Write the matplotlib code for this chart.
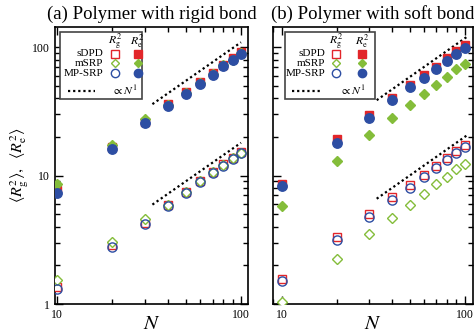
import numpy as np
import matplotlib
matplotlib.use("Agg")
import matplotlib.pyplot as plt
from matplotlib.patches import Rectangle

plt.rcParams['font.family'] = ['Liberation Serif', 'DejaVu Serif']
plt.rcParams['mathtext.fontset'] = 'stix'

# chain length
N = [10, 20, 30, 40, 50, 60, 70, 80, 90, 100]

# (a) rigid bond
rg_sdpd_a = [1.36, 2.88, 4.30, 5.95, 7.45, 9.15, 10.7, 12.2, 13.8, 15.3]
rg_msrp_a = [1.53, 3.05, 4.62, 5.95, 7.40, 9.10, 10.6, 12.1, 13.6, 15.1]
rg_mpsrp_a = [1.32, 2.77, 4.19, 5.80, 7.27, 8.95, 10.4, 11.9, 13.4, 14.9]
re_sdpd_a = [7.7, 16.6, 26.3, 35.8, 44.5, 53.7, 63.0, 73.0, 82.0, 92.0]
re_msrp_a = [8.55, 17.3, 27.4, 35.5, 44.0, 53.0, 62.0, 72.0, 80.0, 90.0]
re_mpsrp_a = [7.35, 16.0, 25.6, 34.7, 43.0, 52.0, 61.0, 71.0, 79.0, 89.0]

# (b) soft bond
rg_sdpd_b = [1.57, 3.30, 5.00, 6.75, 8.40, 10.1, 11.9, 13.8, 15.6, 17.3]
rg_msrp_b = [1.04, 2.23, 3.49, 4.70, 5.90, 7.18, 8.55, 9.68, 11.2, 12.4]
rg_mpsrp_b = [1.51, 3.15, 4.78, 6.45, 8.04, 9.68, 11.4, 13.2, 14.9, 16.6]
re_sdpd_b = [8.6, 19.4, 29.6, 40.3, 50.7, 60.6, 70.3, 81.6, 93.5, 103.5]
re_msrp_b = [5.8, 13.0, 20.7, 27.9, 35.4, 43.0, 50.6, 58.0, 67.4, 73.8]
re_mpsrp_b = [8.3, 18.0, 27.9, 38.7, 48.6, 57.7, 67.1, 78.0, 89.0, 97.6]

# guide lines  prop. N^1
guide_N = [33, 100]
guide_a = (1.09, 0.18)
guide_N_b = [33, 104]
guide_b = (1.17, 0.20)

RED = '#e2262a'
GREEN = '#84bd3a'
BLUE = '#2d4ea3'

fig = plt.figure(figsize=(4.74, 3.35), dpi=100)
ax1 = fig.add_axes([0.116, 0.0925, 0.407, 0.8265])
ax2 = fig.add_axes([0.576, 0.0925, 0.422, 0.8265])


def draw_panel(ax, rg_s, rg_m, rg_p, re_s, re_m, re_p, guide, gN):
    ms = 6.2
    ax.plot(N, re_s, 's', color=RED, ms=ms, ls='none', zorder=3)
    ax.plot(N, re_m, 'D', color=GREEN, ms=ms - 1.6, ls='none', zorder=3)
    ax.plot(N, re_p, 'o', color=BLUE, ms=ms + 0.6, ls='none', zorder=3)
    ax.plot(N, rg_s, 's', mfc='white', mec=RED, mew=1.0, ms=ms, ls='none', zorder=3)
    ax.plot(N, rg_m, 'D', mfc='white', mec=GREEN, mew=1.0, ms=ms - 1.6, ls='none', zorder=3)
    ax.plot(N, rg_p, 'o', mfc='none', mec=BLUE, mew=1.0, ms=ms + 0.4, ls='none', zorder=3)
    for c in guide:
        ax.plot(gN, [c * n for n in gN], color='black', ls=(0, (1, 1.3)), lw=1.6, zorder=2)
    ax.set_xscale('log')
    ax.set_yscale('log')
    ax.set_ylim(1, 143)
    ax.tick_params(which='both', direction='in', top=True, right=True, width=1.0, labelsize=8.5)
    ax.tick_params(which='major', length=6)
    ax.tick_params(which='minor', length=3.5)
    ax.set_xticks([10, 100])
    ax.set_xticklabels(['10', '100'])
    for s in ax.spines.values():
        s.set_linewidth(1.2)
    ax.set_xlabel(r'$N$', fontsize=15, labelpad=-4)


def draw_legend(ax, x0, x1, xl, xo, xf, xd0, xd1, xn):
    ax.add_patch(Rectangle((x0, 0.74), x1 - x0, 0.242, transform=ax.transAxes,
                           fill=True, fc='white', ec='#444444', lw=1.2, zorder=5))
    ax.text(xo, 0.948, r'$R_{\rm g}^2$', transform=ax.transAxes, ha='center', va='center', fontsize=8.5, zorder=6)
    ax.text(xf, 0.948, r'$R_{\rm e}^2$', transform=ax.transAxes, ha='center', va='center', fontsize=8.5, zorder=6)
    rows = [('sDPD', 's', RED, 0.904), ('mSRP', 'D', GREEN, 0.869), ('MP-SRP', 'o', BLUE, 0.834)]
    for name, m, c, y in rows:
        ax.text(xl, y, name, transform=ax.transAxes, ha='right', va='center', fontsize=8, zorder=6)
        msz = 4.4 if m == 'D' else 6.0
        ax.plot([xo], [y], m, mfc='white', mec=c, mew=1.0, ms=msz, transform=ax.transAxes, zorder=6, clip_on=False)
        ax.plot([xf], [y], m, color=c, ms=msz, transform=ax.transAxes, zorder=6, clip_on=False)
    ax.plot([xd0, xd1], [0.769, 0.769], color='black', ls=(0, (1, 1.3)), lw=1.6,
            transform=ax.transAxes, zorder=6)
    ax.text(xn, 0.769, r'$\propto N^1$', transform=ax.transAxes, ha='center', va='center', fontsize=8.5, zorder=6)


draw_panel(ax1, rg_sdpd_a, rg_msrp_a, rg_mpsrp_a, re_sdpd_a, re_msrp_a, re_mpsrp_a, guide_a, guide_N)
draw_panel(ax2, rg_sdpd_b, rg_msrp_b, rg_mpsrp_b, re_sdpd_b, re_msrp_b, re_mpsrp_b, guide_b, guide_N_b)
ax1.set_xlim(9.75, 109)
ax2.set_xlim(8.95, 111)
ax1.set_yticks([1, 10, 100])
ax1.set_yticklabels(['1', '10', '100'])
ax2.set_yticks([1, 10, 100])
ax2.set_yticklabels([])
ax1.set_ylabel(r'$\langle R_{\rm g}^2\rangle,\ \ \langle R_{\rm e}^2\rangle$', fontsize=11.5)
ax1.yaxis.set_label_coords(-0.125, 0.5)

draw_legend(ax1, 0.026, 0.45, 0.249, 0.311, 0.428, 0.067, 0.207, 0.363)
draw_legend(ax2, 0.06, 0.51, 0.26, 0.315, 0.445, 0.094, 0.235, 0.40)

ax1.set_title('(a) Polymer with rigid bond', fontsize=13.5, pad=6)
ax2.set_title('(b) Polymer with soft bond', fontsize=13.5, pad=6)

fig.savefig('out.png', dpi=100)
